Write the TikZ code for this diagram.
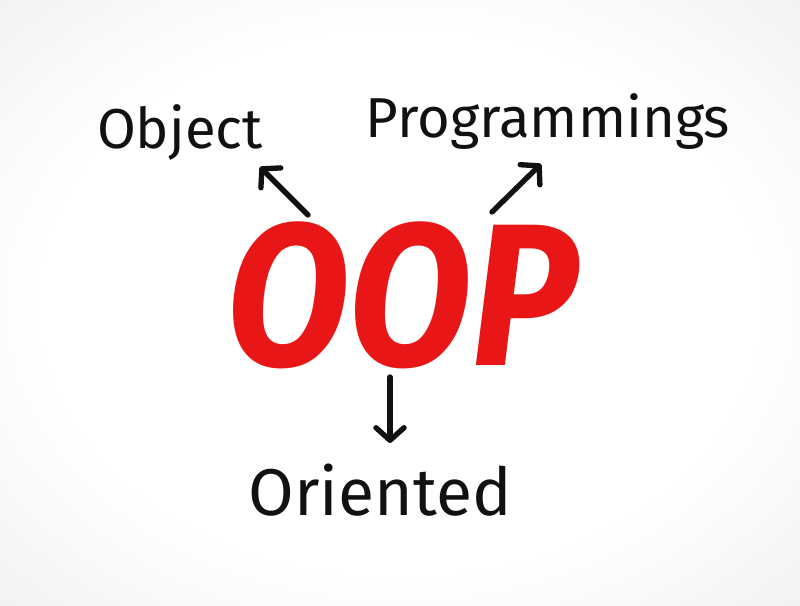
\documentclass[tikz,border=0pt]{standalone}
\usepackage{fontspec}
\setmainfont{Fira Sans}
\usetikzlibrary{arrows.meta}

\definecolor{oopred}{RGB}{232,22,22}
\definecolor{ink}{RGB}{17,17,17}

\pgfdeclareradialshading{paper}{\pgfpoint{0bp}{0bp}}{color(0bp)=(white); color(22bp)=(white); color(50bp)=(black!10); color(72bp)=(black!16)}

\tikzset{
  word/.style={text=ink, font=\fontsize{40}{44}\selectfont, inner sep=0pt},
  arr/.style={draw=ink, line width=3.8pt, line cap=round, line join=round,
    -{Straight Barb[length=9pt,width=20pt,round]}}
}

\begin{document}
\begin{tikzpicture}[x=0.025cm,y=-0.025cm]

            \useasboundingbox (0,0) rectangle (800,605);
            \shade[shading=paper] (0,0) rectangle (800,605);

            \node[text=oopred, font=\fontsize{144}{150}\bfseries\itshape\selectfont, xscale=.89, transform shape, inner sep=0pt] (oop) at (402,295) {OOP};

            \node[word] (obj) at (180,133) {Object};
            \node[word] (prog) at (548,122) {Programmings};
            \node[word, font=\fontsize{47}{50}\selectfont] (ori) at (380,490) {Oriented};

            \coordinate (objfoot) at (308,215);
            \coordinate (objtip) at (260,167);
            \coordinate (progfoot) at (492,212);
            \coordinate (progtip) at (541,164);
            \coordinate (orifoot) at (390,377);
            \coordinate (oritip) at (390,443);

            \draw[arr] (objfoot) -- (objtip);
            \draw[arr] (progfoot) -- (progtip);
            \draw[arr] (orifoot) -- (oritip);
            \end{tikzpicture}
\end{document}
